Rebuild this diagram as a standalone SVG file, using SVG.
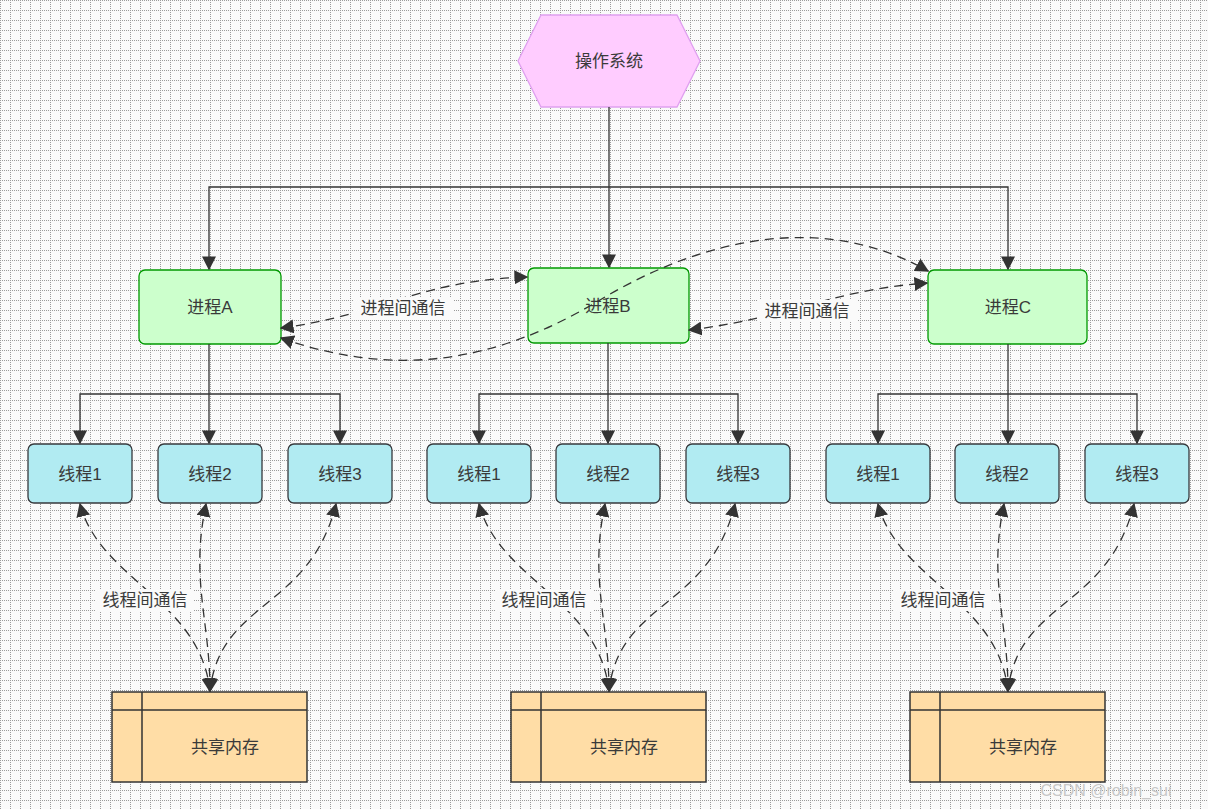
<svg xmlns="http://www.w3.org/2000/svg" width="1208" height="809" viewBox="0 0 1208 809">
<defs>
<pattern id="g" width="10" height="10" patternUnits="userSpaceOnUse">
<path d="M0 0.5H10M0.5 0V10" stroke="#9a9a9a" stroke-width="1" stroke-dasharray="1,1" fill="none"/>
</pattern>
<marker id="ar2" viewBox="0 0 10 10" refX="9" refY="5" markerWidth="14" markerHeight="14" markerUnits="userSpaceOnUse" orient="auto-start-reverse">
<path d="M0 0L10 5L0 10Z" fill="#333"/>
</marker>
</defs>
<style>
text{font-family:"Liberation Sans","Noto Sans CJK SC",sans-serif;font-size:17px;fill:#3a3a3a;text-anchor:middle;dominant-baseline:central}
.p{fill:#ccffcc;stroke:#009900;stroke-width:1.3}
.t{fill:#b1ebf2;stroke:#36393d;stroke-width:1.3}
.m{fill:#ffdda6;stroke:#333;stroke-width:1.5}
.s{fill:none;stroke:#333;stroke-width:1.3;marker-end:url(#ar2)}
.d{fill:none;stroke:#333;stroke-width:1.3;stroke-dasharray:9,6;marker-end:url(#ar2);marker-start:url(#ar2)}
.lb{fill:#fafafa}
</style>
<rect width="1208" height="809" fill="#fafafa"/>
<rect width="1208" height="809" fill="url(#g)"/>
<g id="os"><polygon points="518,61 541,15 677,15 700,61 677,107 541,107" fill="#ffccff" stroke="#e0a0f0" stroke-width="1.3"/><text x="609" y="61">操作系统</text></g>
<g id="procA"><rect class="p" x="139" y="270" width="142" height="74" rx="6"/><text x="210" y="307">进程A</text></g>
<g id="procB"><rect class="p" x="528" y="268" width="161" height="75" rx="6"/><text x="608" y="306">进程B</text></g>
<g id="procC"><rect class="p" x="928" y="270" width="159" height="74" rx="6"/><text x="1008" y="307">进程C</text></g>
<g id="tA1"><rect class="t" x="28" y="444" width="104" height="59" rx="6"/><text x="80" y="474">线程1</text></g>
<g id="tA2"><rect class="t" x="158" y="444" width="104" height="59" rx="6"/><text x="210" y="474">线程2</text></g>
<g id="tA3"><rect class="t" x="288" y="444" width="104" height="59" rx="6"/><text x="340" y="474">线程3</text></g>
<g id="tB1"><rect class="t" x="427" y="444" width="104" height="59" rx="6"/><text x="479" y="474">线程1</text></g>
<g id="tB2"><rect class="t" x="556" y="444" width="104" height="59" rx="6"/><text x="608" y="474">线程2</text></g>
<g id="tB3"><rect class="t" x="686" y="444" width="104" height="59" rx="6"/><text x="738" y="474">线程3</text></g>
<g id="tC1"><rect class="t" x="826" y="444" width="104" height="59" rx="6"/><text x="878" y="474">线程1</text></g>
<g id="tC2"><rect class="t" x="955" y="444" width="104" height="59" rx="6"/><text x="1007" y="474">线程2</text></g>
<g id="tC3"><rect class="t" x="1085" y="444" width="104" height="59" rx="6"/><text x="1137" y="474">线程3</text></g>
<g id="memA"><rect class="m" x="112" y="692" width="195" height="90"/><path d="M142 692V782M112 710H307" stroke="#333" stroke-width="1.5"/><text x="225" y="747">共享内存</text></g>
<g id="memB"><rect class="m" x="511" y="692" width="195" height="90"/><path d="M541 692V782M511 710H706" stroke="#333" stroke-width="1.5"/><text x="624" y="747">共享内存</text></g>
<g id="memC"><rect class="m" x="910" y="692" width="195" height="90"/><path d="M940 692V782M910 710H1105" stroke="#333" stroke-width="1.5"/><text x="1023" y="747">共享内存</text></g>
<g id="connectors">
<path class="s" d="M609 107V267"/>
<path class="s" d="M609 187H209V269"/>
<path class="s" d="M609 187H1008V269"/>
<path class="s" d="M209 344V443"/>
<path class="s" d="M209 394H80V443"/>
<path class="s" d="M209 394H340V443"/>
<path class="s" d="M608 343V443"/>
<path class="s" d="M608 394H479V443"/>
<path class="s" d="M608 394H738V443"/>
<path class="s" d="M1008 344V443"/>
<path class="s" d="M1008 394H878V443"/>
<path class="s" d="M1008 394H1137V443"/>
<path class="d" d="M281 328C380 315 420 280 527 277"/>
<path class="d" d="M281 338C400 380 500 360 600 300C700 240 820 210 928 271"/>
<path class="d" d="M689 330C790 318 830 290 927 283"/>
<path class="d" d="M80 504C100 580 200 600 210 691"/>
<path class="d" d="M206 504C190 580 210 620 210 691"/>
<path class="d" d="M336 504C310 610 220 600 210 691"/>
<path class="d" d="M479 504C499 580 599 600 609 691"/>
<path class="d" d="M605 504C589 580 609 620 609 691"/>
<path class="d" d="M735 504C709 610 619 600 609 691"/>
<path class="d" d="M878 504C898 580 998 600 1008 691"/>
<path class="d" d="M1004 504C988 580 1008 620 1008 691"/>
<path class="d" d="M1134 504C1108 610 1018 600 1008 691"/>
</g>
<g id="labels">
<rect class="lb" x="353" y="297" width="100" height="22"/><text x="403" y="308">进程间通信</text>
<rect class="lb" x="757" y="300" width="100" height="22"/><text x="807" y="311">进程间通信</text>
<rect class="lb" x="96" y="589" width="98" height="22"/><text x="145" y="600">线程间通信</text>
<rect class="lb" x="495" y="589" width="98" height="22"/><text x="544" y="600">线程间通信</text>
<rect class="lb" x="894" y="589" width="98" height="22"/><text x="943" y="600">线程间通信</text>
</g>
<text x="1106" y="790" style="font-size:16px;fill:#c8c8c8">CSDN @robin_sui</text>
</svg>
